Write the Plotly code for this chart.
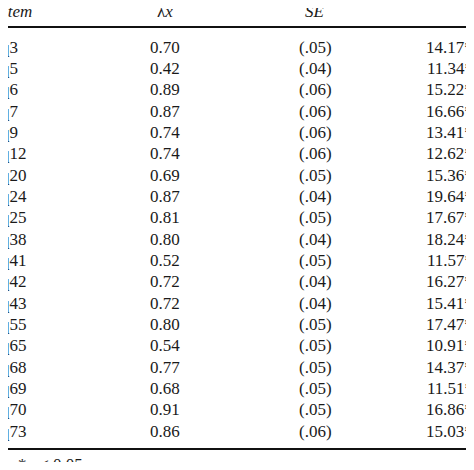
import plotly.graph_objects as go

items = ["q3","q5","q6","q7","q9","q12","q20","q24","q25","q38","q41","q42","q43","q55","q65","q68","q69","q70","q73"]
lam = ["0.70","0.42","0.89","0.87","0.74","0.74","0.69","0.87","0.81","0.80","0.52","0.72","0.72","0.80","0.54","0.77","0.68","0.91","0.86"]
se = ["(.05)","(.04)","(.06)","(.06)","(.06)","(.06)","(.05)","(.04)","(.05)","(.04)","(.05)","(.04)","(.04)","(.05)","(.05)","(.05)","(.05)","(.05)","(.06)"]
tval = ["14.17*","11.34*","15.22*","16.66*","13.41*","12.62*","15.36*","19.64*","17.67*","18.24*","11.57*","16.27*","15.41*","17.47*","10.91*","14.37*","11.51*","16.86*","15.03*"]
headers = ["<i>Item</i>", "λ<i>x</i>", "<i>SE</i>", "<i>t</i>"]

# page has an 8px body margin; map reference pixels into the smaller figure
OFF = 8
W, H = 474 - 2 * OFF, 470 - 2 * OFF
FONT = dict(family="Liberation Serif, DejaVu Serif, serif", size=17, color="#1a1a1a")

fig = go.Figure()
ann = []
def px(x): return (x - OFF) / W
def py(y): return 1 - (y - OFF) / H

cols = [(-1, "left"), (165, "center"), (315, "center"), (475, "right")]
hy = 12
for (x, al), h in zip(cols, headers):
    ann.append(dict(x=px(x), y=py(hy), text=h, xanchor=al))
y0, dy = 47, 21.35
for i in range(len(items)):
    y = y0 + i * dy
    for (x, al), v in zip(cols, [items[i], lam[i], se[i], tval[i]]):
        ann.append(dict(x=px(x), y=py(y), text=v, xanchor=al))
ann.append(dict(x=px(16), y=py(464), text="*<i>p</i> &lt; 0.05.", xanchor="left"))
for a in ann:
    a.update(xref="paper", yref="paper", yanchor="middle", showarrow=False, font=FONT)

shapes = [
    dict(type="line", xref="paper", yref="paper", x0=px(0), x1=px(474), y0=py(27), y1=py(27), line=dict(color="#111", width=2)),
    dict(type="line", xref="paper", yref="paper", x0=px(0), x1=px(474), y0=py(449), y1=py(449), line=dict(color="#111", width=2)),
]
fig.update_layout(width=W, height=H, margin=dict(l=0, r=0, t=0, b=0),
                  paper_bgcolor="white", plot_bgcolor="white",
                  xaxis=dict(visible=False), yaxis=dict(visible=False),
                  annotations=ann, shapes=shapes)
fig.write_html("out.html")
